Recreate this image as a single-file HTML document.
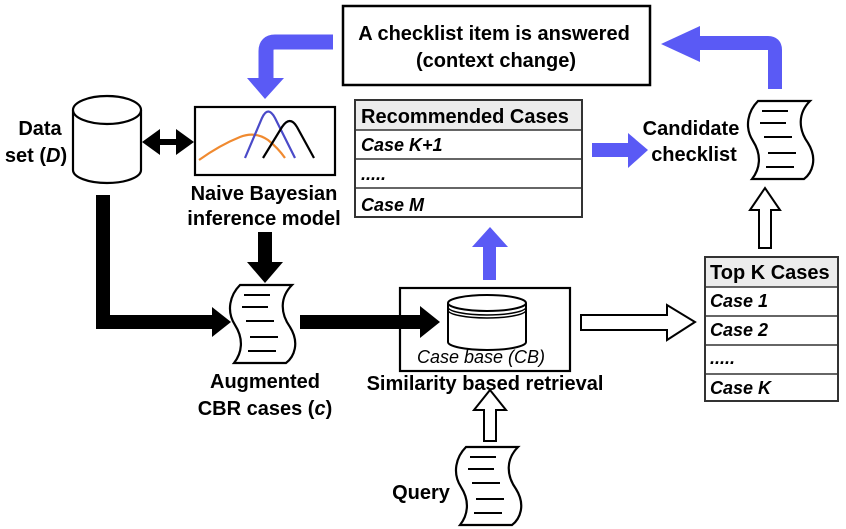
<!DOCTYPE html>
<html><head><meta charset="utf-8"><style>
body{margin:0;background:#fff}
svg{display:block}
text{font-family:"Liberation Sans",Arial,sans-serif;font-weight:bold;fill:#000}
.i{font-style:italic}
</style></head><body>
<svg width="846" height="529" viewBox="0 0 846 529" xmlns="http://www.w3.org/2000/svg">
<defs>
<g id="scroll">
<path d="M10,0 L62,0 C50,12 50,28 60,42 C70,58 64,72 56,78 L4,78 C12,68 14,54 5,40 C-4,26 0,10 10,0 Z" fill="#fff" stroke="#000" stroke-width="2.2"/>
<line x1="14" y1="10" x2="40" y2="10" stroke="#000" stroke-width="2"/>
<line x1="12" y1="22" x2="38" y2="22" stroke="#000" stroke-width="2"/>
<line x1="16" y1="36" x2="44" y2="36" stroke="#000" stroke-width="2"/>
<line x1="20" y1="52" x2="48" y2="52" stroke="#000" stroke-width="2"/>
<line x1="18" y1="66" x2="46" y2="66" stroke="#000" stroke-width="2"/>
</g>
</defs>

<rect x="343" y="6" width="307" height="79" fill="#fff" stroke="#000" stroke-width="2.5"/>
<text x="494" y="40" font-size="20" text-anchor="middle">A checklist item is answered</text>
<text x="496" y="67" font-size="20" text-anchor="middle">(context change)</text>

<path d="M333,42 L275,42 Q266,42 266,51 L266,80" fill="none" stroke="#5a5af5" stroke-width="15"/>
<polygon points="247,78 284,78 265,99" fill="#5a5af5"/>
<path d="M775,89 L775,50 Q775,43 768,43 L698,43" fill="none" stroke="#5a5af5" stroke-width="14"/>
<polygon points="700,26 700,62 661,44" fill="#5a5af5"/>

<path d="M73,110 L73,170 A34,13 0 0 0 141,170 L141,110" fill="#fff" stroke="#000" stroke-width="2.2"/>
<ellipse cx="107" cy="110" rx="34" ry="14" fill="#fff" stroke="#000" stroke-width="2.2"/>
<text x="40" y="135" font-size="20" text-anchor="middle">Data</text>
<text x="36" y="162" font-size="20" text-anchor="middle">set (<tspan class="i">D</tspan>)</text>

<line x1="155" y1="142" x2="181" y2="142" stroke="#000" stroke-width="6"/>
<polygon points="142,142 160,129 160,155" fill="#000"/>
<polygon points="194,142 176,129 176,155" fill="#000"/>

<rect x="195" y="107" width="140" height="68" fill="#fff" stroke="#000" stroke-width="2.2"/>
<path d="M199,160 Q220,145 240,137 Q255,131 268,140 Q278,148 285,158" fill="none" stroke="#f08a30" stroke-width="2.2"/>
<path d="M245,158 L262,118 Q268,105 275,118 L295,158" fill="none" stroke="#4a4ac8" stroke-width="2.2"/>
<path d="M263,158 L282,127 Q290,115 297,127 L314,158" fill="none" stroke="#000" stroke-width="2.2"/>
<text x="264" y="200" font-size="20" text-anchor="middle">Naive Bayesian</text>
<text x="264" y="225" font-size="20" text-anchor="middle">inference model</text>

<rect x="355" y="100" width="227" height="117" fill="#fff" stroke="#333" stroke-width="2"/>
<rect x="356" y="101" width="225" height="29" fill="#ececec"/>
<line x1="355" y1="130" x2="582" y2="130" stroke="#333" stroke-width="1.5"/>
<line x1="355" y1="159" x2="582" y2="159" stroke="#333" stroke-width="1.5"/>
<line x1="355" y1="188" x2="582" y2="188" stroke="#333" stroke-width="1.5"/>
<text x="361" y="123" font-size="20">Recommended Cases</text>
<text x="361" y="151" font-size="18" class="i">Case K+1</text>
<text x="361" y="180" font-size="18" class="i">.....</text>
<text x="361" y="211" font-size="18" class="i">Case M</text>

<rect x="592" y="143" width="38" height="14" fill="#5a5af5"/>
<polygon points="628,133 628,168 648,150" fill="#5a5af5"/>
<text x="691" y="135" font-size="20" text-anchor="middle">Candidate</text>
<text x="694" y="161" font-size="20" text-anchor="middle">checklist</text>
<use href="#scroll" x="748" y="101"/>

<polygon points="759,248 771,248 771,210 780,210 765,188 750,210 759,210" fill="#fff" stroke="#000" stroke-width="2"/>

<rect x="705" y="257" width="133" height="144" fill="#fff" stroke="#333" stroke-width="2"/>
<rect x="706" y="258" width="131" height="29" fill="#ececec"/>
<line x1="705" y1="287" x2="838" y2="287" stroke="#333" stroke-width="1.5"/>
<line x1="705" y1="316" x2="838" y2="316" stroke="#333" stroke-width="1.5"/>
<line x1="705" y1="345" x2="838" y2="345" stroke="#333" stroke-width="1.5"/>
<line x1="705" y1="374" x2="838" y2="374" stroke="#333" stroke-width="1.5"/>
<text x="710" y="279" font-size="20">Top K Cases</text>
<text x="710" y="307" font-size="18" class="i">Case 1</text>
<text x="710" y="336" font-size="18" class="i">Case 2</text>
<text x="710" y="364" font-size="18" class="i">.....</text>
<text x="710" y="394" font-size="18" class="i">Case K</text>

<polygon points="581,315 667,315 667,305 695,322 667,340 667,330 581,330" fill="#fff" stroke="#000" stroke-width="2"/>

<rect x="483" y="245" width="13" height="35" fill="#5a5af5"/>
<polygon points="472,247 508,247 490,227" fill="#5a5af5"/>

<rect x="400" y="288" width="170" height="83" fill="#fff" stroke="#000" stroke-width="2.2"/>
<path d="M448,303 L448,342 A39,8 0 0 0 526,342 L526,303" fill="#fff" stroke="#000" stroke-width="2"/>
<ellipse cx="487" cy="303" rx="39" ry="8" fill="#fff" stroke="#000" stroke-width="2"/>
<path d="M448,307 A39,8 0 0 0 526,307 M448,310 A39,8 0 0 0 526,310" fill="none" stroke="#000" stroke-width="1.5"/>
<text x="481" y="363" font-size="18" text-anchor="middle" style="font-weight:normal;font-style:italic">Case base (CB)</text>
<text x="485" y="390" font-size="20" text-anchor="middle">Similarity based retrieval</text>

<path d="M103,195 L103,322 L214,322" fill="none" stroke="#000" stroke-width="14"/>
<polygon points="212,307 212,337 231,322" fill="#000"/>
<rect x="258" y="232" width="14" height="32" fill="#000"/>
<polygon points="247,262 283,262 265,283" fill="#000"/>
<rect x="300" y="315" width="122" height="14" fill="#000"/>
<polygon points="420,306 420,338 440,322" fill="#000"/>

<use href="#scroll" x="230" y="285"/>
<text x="265" y="388" font-size="20" text-anchor="middle">Augmented</text>
<text x="265" y="415" font-size="20" text-anchor="middle">CBR cases (<tspan class="i">c</tspan>)</text>

<polygon points="484,441 496,441 496,410 506,410 490,390 474,410 484,410" fill="#fff" stroke="#000" stroke-width="2"/>
<use href="#scroll" x="456" y="447"/>
<text x="421" y="499" font-size="20" text-anchor="middle">Query</text>
</svg>
</body></html>
